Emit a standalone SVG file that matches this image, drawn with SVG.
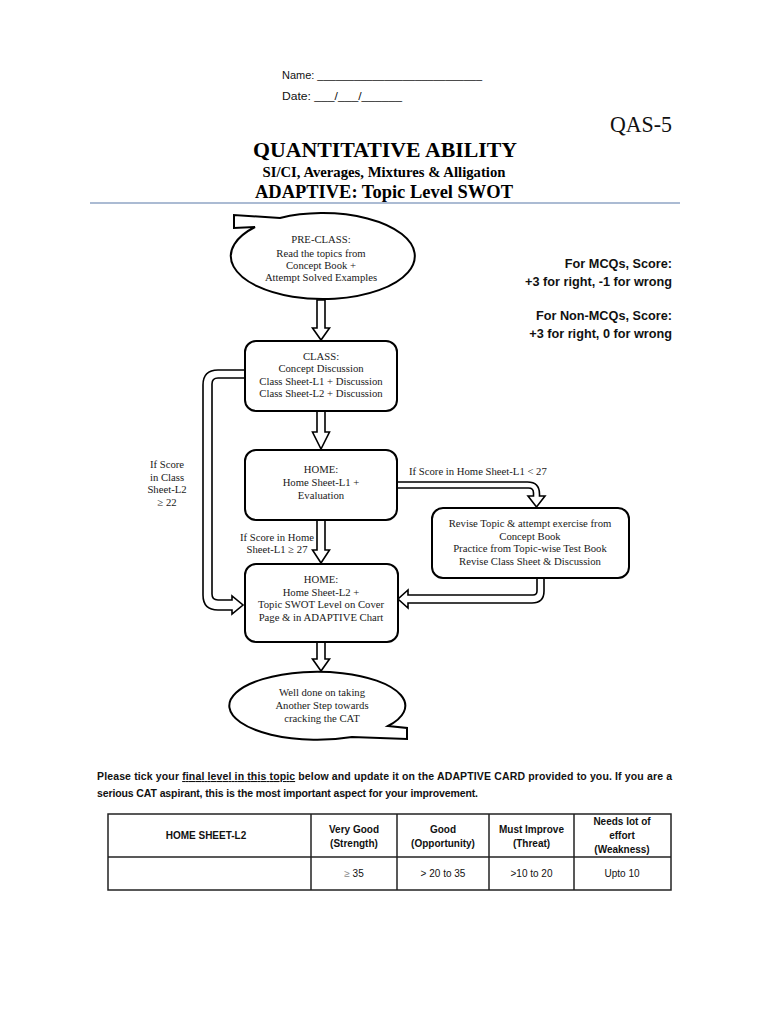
<svg xmlns="http://www.w3.org/2000/svg" width="768" height="1024" viewBox="0 0 768 1024">
<style>
.node{fill:#fff;stroke:#000;stroke-width:2}
.arrow{fill:#fff;stroke:#000;stroke-width:1.6;stroke-linejoin:miter}
.t{font-family:"Liberation Serif",serif;font-size:10.7px;text-anchor:middle;fill:#1a1a1a}
.tl{font-family:"Liberation Serif",serif;font-size:10.7px;fill:#1a1a1a}
.s{font-family:"Liberation Sans",Arial,sans-serif;fill:#111}
.sb{font-family:"Liberation Sans",Arial,sans-serif;font-weight:bold;fill:#111}
.tb{font-family:"Liberation Sans",Arial,sans-serif;font-size:10px;text-anchor:middle;fill:#111}
.title{font-family:"Liberation Serif",serif;font-weight:bold;text-anchor:middle;fill:#000}
.grid{stroke:#222;stroke-width:1.5;fill:none}
</style>
<rect width="768" height="1024" fill="#fff"/>

<g id="header">
<text class="s" x="282" y="79" font-size="11.5" textLength="200" lengthAdjust="spacingAndGlyphs">Name: ___________________________</text>
<text class="s" x="282" y="100" font-size="11.5" textLength="120" lengthAdjust="spacingAndGlyphs">Date: ___/___/______</text>
<text x="672" y="132" font-family="Liberation Serif,serif" font-size="23" text-anchor="end" fill="#111" textLength="62" lengthAdjust="spacingAndGlyphs">QAS-5</text>
<text class="title" x="385" y="157" font-size="21.5" textLength="264" lengthAdjust="spacingAndGlyphs">QUANTITATIVE ABILITY</text>
<text class="title" x="384" y="177" font-size="14" textLength="243" lengthAdjust="spacingAndGlyphs">SI/CI, Averages, Mixtures &amp; Alligation</text>
<text class="title" x="384" y="198" font-size="18" textLength="258" lengthAdjust="spacingAndGlyphs">ADAPTIVE: Topic Level SWOT</text>
<line x1="90" y1="203" x2="680" y2="203" stroke="#8fa5c4" stroke-width="1.5"/>
</g>

<g id="scoring">
<text class="sb" x="672" y="268" font-size="12.7" text-anchor="end">For MCQs, Score:</text>
<text class="sb" x="672" y="286" font-size="12.7" text-anchor="end">+3 for right, -1 for wrong</text>
<text class="sb" x="672" y="320" font-size="12.7" text-anchor="end">For Non-MCQs, Score:</text>
<text class="sb" x="672" y="338" font-size="12.7" text-anchor="end">+3 for right, 0 for wrong</text>
</g>

<g id="connectors">
<path class="arrow" d="M317,300 L325,300 L325,328 L329.5,328 L321,340 L312.5,328 L317,328 Z"/>
<path class="arrow" d="M317,411 L325,411 L325,432 L329.5,432 L321,449 L312.5,432 L317,432 Z"/>
<path class="arrow" d="M317,520 L325,520 L325,550 L329.5,550 L321,563 L312.5,550 L317,550 Z"/>
<path class="arrow" d="M317,642 L325,642 L325,659 L329.5,659 L321,671 L312.5,659 L317,659 Z"/>
<path class="arrow" d="M397,482 L527.5,482 Q539.5,482 539.5,494 L539.5,496 L545,496 L536.5,507 L528,496 L533.5,496 L533.5,493 Q533.5,488 528.5,488 L397,488 Z"/>
<path class="arrow" d="M537,578 L537,591 Q537,595 533,595 L408,595 L408,590 L398,599 L408,608 L408,603 L532,603 Q544,603 544,591 L544,578 Z"/>
<path class="arrow" d="M245,370 L218,370 Q203,370 203,385 L203,595 Q203,610 218,610 L232,610 L232,614 L243,605 L232,596 L232,600 L218,600 Q212,600 212,594 L212,384 Q212,378 218,378 L245,378 Z"/>
<text class="t" x="167" y="468">If Score</text>
<text class="t" x="167" y="481">in Class</text>
<text class="t" x="167" y="493">Sheet-L2</text>
<text class="t" x="167" y="506">≥ 22</text>
<text class="tl" x="409" y="475">If Score in Home Sheet-L1 &lt; 27</text>
<text class="t" x="277" y="541">If Score in Home</text>
<text class="t" x="277" y="553">Sheet-L1 ≥ 27</text>
</g>

<g id="preclass">
<path class="node" d="M280,218 L234,215 L234,228 L255,227 A92 43 0 1 0 280,218 Z"/>
<text class="t" x="321" y="243">PRE-CLASS:</text>
<text class="t" x="321" y="256.5">Read the topics from</text>
<text class="t" x="321" y="269">Concept Book +</text>
<text class="t" x="321" y="281">Attempt Solved Examples</text>
</g>

<g id="class">
<rect class="node" x="245" y="341" width="152" height="70" rx="11"/>
<text class="t" x="321" y="360">CLASS:</text>
<text class="t" x="321" y="372">Concept Discussion</text>
<text class="t" x="321" y="385">Class Sheet-L1 + Discussion</text>
<text class="t" x="321" y="397">Class Sheet-L2 + Discussion</text>
</g>

<g id="home1">
<rect class="node" x="245" y="450" width="152" height="70" rx="11"/>
<text class="t" x="321" y="473">HOME:</text>
<text class="t" x="321" y="486">Home Sheet-L1 +</text>
<text class="t" x="321" y="499">Evaluation</text>
</g>

<g id="revise">
<rect class="node" x="432" y="508" width="197" height="70" rx="11"/>
<text class="t" x="530" y="527">Revise Topic &amp; attempt exercise from</text>
<text class="t" x="530" y="540">Concept Book</text>
<text class="t" x="530" y="552">Practice from Topic-wise Test Book</text>
<text class="t" x="530" y="565">Revise Class Sheet &amp; Discussion</text>
</g>

<g id="home2">
<rect class="node" x="245" y="564" width="153" height="78" rx="11"/>
<text class="t" x="321" y="583">HOME:</text>
<text class="t" x="321" y="596">Home Sheet-L2 +</text>
<text class="t" x="321" y="608">Topic SWOT Level on Cover</text>
<text class="t" x="321" y="621">Page &amp; in ADAPTIVE Chart</text>
</g>

<g id="final">
<path class="node" d="M388,726 L407,728 L407,739 L352,737 A88 34 0 1 1 388,726 Z"/>
<text class="t" x="322" y="695.5">Well done on taking</text>
<text class="t" x="322" y="709">Another Step towards</text>
<text class="t" x="322" y="721.5">cracking the CAT</text>
</g>

<g id="instructions">
<text class="sb" x="97" y="780" font-size="10.5" textLength="575" lengthAdjust="spacing">Please tick your <tspan text-decoration="underline">final level in this topic</tspan> below and update it on the ADAPTIVE CARD provided to you. If you are a</text>
<text class="sb" x="97" y="797" font-size="10.5" textLength="381" lengthAdjust="spacing">serious CAT aspirant, this is the most important aspect for your improvement.</text>
</g>

<g id="table">
<rect class="grid" x="108" y="814" width="563" height="76"/>
<line class="grid" x1="108" y1="857" x2="671" y2="857"/>
<line class="grid" x1="311" y1="814" x2="311" y2="890"/>
<line class="grid" x1="397" y1="814" x2="397" y2="890"/>
<line class="grid" x1="489" y1="814" x2="489" y2="890"/>
<line class="grid" x1="574" y1="814" x2="574" y2="890"/>
<text class="tb" x="206" y="839" font-weight="bold">HOME SHEET-L2</text>
<text class="tb" x="354" y="832.5" font-weight="bold">Very Good</text>
<text class="tb" x="354" y="846.5" font-weight="bold">(Strength)</text>
<text class="tb" x="443" y="832.5" font-weight="bold">Good</text>
<text class="tb" x="443" y="846.5" font-weight="bold">(Opportunity)</text>
<text class="tb" x="531.5" y="832.5" font-weight="bold">Must Improve</text>
<text class="tb" x="531.5" y="846.5" font-weight="bold">(Threat)</text>
<text class="tb" x="622" y="824.5" font-weight="bold">Needs lot of</text>
<text class="tb" x="622" y="838.5" font-weight="bold">effort</text>
<text class="tb" x="622" y="852.5" font-weight="bold">(Weakness)</text>
<text class="tb" x="354" y="877"><tspan fill="#888">≥</tspan> 35</text>
<text class="tb" x="443" y="877">&gt; 20 to 35</text>
<text class="tb" x="531.5" y="877">&gt;10 to 20</text>
<text class="tb" x="622" y="877">Upto 10</text>
</g>
</svg>
